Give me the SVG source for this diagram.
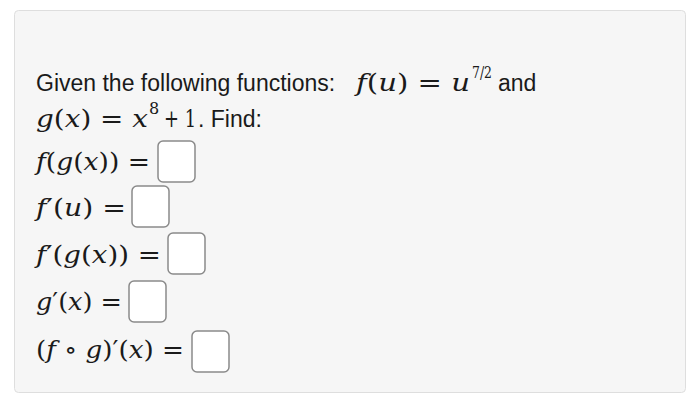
<svg xmlns="http://www.w3.org/2000/svg" width="700" height="411" viewBox="0 0 700 411">
<style>
.t{font-family:"Liberation Sans",Arial,sans-serif;font-size:23px;fill:#1a1a1a}
.m{font-family:"DejaVu Serif","Liberation Serif",serif;font-size:24px;fill:#1a1a1a}
.s{font-family:"DejaVu Serif","Liberation Serif",serif;font-size:16px;fill:#1a1a1a}
.i{font-style:italic}
.b{fill:#fff;stroke:#8a8a8a;stroke-width:1.5}
</style>
<rect width="700" height="411" fill="#fff"/>
<rect x="14.5" y="10.5" width="671" height="382" rx="4" fill="#f6f6f6" stroke="#dedede"/>
<text x="36" y="91" class="t">Given the following functions:</text>
<text x="356" y="91" class="m" textLength="114" lengthAdjust="spacingAndGlyphs"><tspan class="i">f</tspan>(<tspan class="i">u</tspan>) = <tspan class="i">u</tspan></text>
<text x="472" y="78" class="s" textLength="20" lengthAdjust="spacingAndGlyphs">7/2</text>
<text x="498" y="91" class="t">and</text>
<text x="36" y="127" class="m" textLength="112" lengthAdjust="spacingAndGlyphs"><tspan class="i">g</tspan>(<tspan class="i">x</tspan>) = <tspan class="i">x</tspan></text>
<text x="149" y="114" class="s">8</text>
<text x="164" y="127" class="m" textLength="32" lengthAdjust="spacingAndGlyphs">+ 1</text>
<text x="198" y="127" class="t">. Find:</text>
<text x="36" y="170" class="m" textLength="114" lengthAdjust="spacingAndGlyphs"><tspan class="i">f</tspan>(<tspan class="i">g</tspan>(<tspan class="i">x</tspan>)) =</text>
<rect x="158" y="141" width="37" height="41" rx="5" class="b"/>
<text x="36" y="216" class="m" textLength="90" lengthAdjust="spacingAndGlyphs"><tspan class="i">f</tspan>′(<tspan class="i">u</tspan>) =</text>
<rect x="132" y="186" width="37" height="41" rx="5" class="b"/>
<text x="36" y="263" class="m" textLength="125" lengthAdjust="spacingAndGlyphs"><tspan class="i">f</tspan>′(<tspan class="i">g</tspan>(<tspan class="i">x</tspan>)) =</text>
<rect x="168" y="233" width="37" height="41" rx="5" class="b"/>
<text x="36" y="310" class="m" textLength="86" lengthAdjust="spacingAndGlyphs"><tspan class="i">g</tspan>′(<tspan class="i">x</tspan>) =</text>
<rect x="129" y="281" width="37" height="41" rx="5" class="b"/>
<text x="36" y="358" class="m" textLength="148" lengthAdjust="spacingAndGlyphs">(<tspan class="i">f</tspan> ∘ <tspan class="i">g</tspan>)′(<tspan class="i">x</tspan>) =</text>
<rect x="192" y="331" width="37" height="41" rx="5" class="b"/>
</svg>
